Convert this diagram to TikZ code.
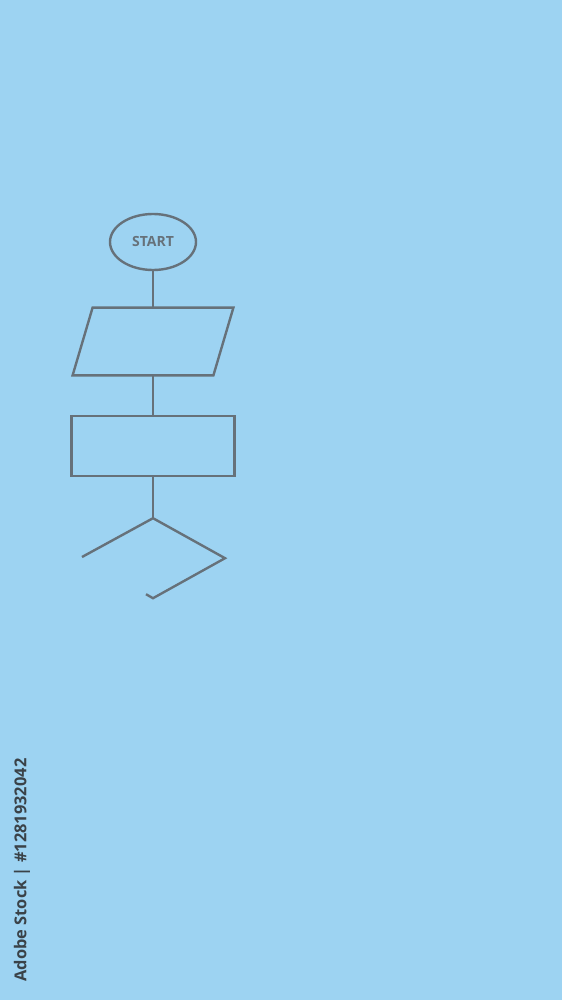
\documentclass[tikz,border=0pt]{standalone}
\usepackage{fontspec}
\setmainfont{Open Sans}
\usetikzlibrary{shapes.geometric}
\definecolor{skyblue}{HTML}{9DD3F2}
\definecolor{flowgray}{HTML}{66717A}
\definecolor{idgray}{HTML}{3A4248}

\begin{document}
\begin{tikzpicture}[x=0.5pt,y=-0.5pt]
	\tikzset{
		flow/.style={draw=flowgray, line width=1.2pt, inner sep=0pt},
		link/.style={draw=flowgray, line width=1.2pt}
	}
	% background
	\fill[skyblue] (0,0) rectangle (562,1000);
	\useasboundingbox (0,0) rectangle (562,1000);
	
	% start ellipse
	\node[flow, ellipse, minimum width=43pt, minimum height=28pt, text=flowgray, font=\fontsize{7}{8}\selectfont\bfseries] (start) at (153,242) {START};
	% input parallelogram (slanted outline round an empty box)
	\node[inner sep=0pt, minimum width=70pt, minimum height=33.5pt] (input) at (153,341.5) {};
	\draw[link, line join=miter] ([xshift=5pt]input.north west) -- ([xshift=5pt]input.north east)
		-- ([xshift=-5pt]input.south east) -- ([xshift=-5pt]input.south west) -- cycle;
	% process box
	\node[flow, rectangle, minimum width=81.5pt, minimum height=30pt] (process) at (153,446) {};
	
	% connectors
	\draw[link] (start.south) -- (input.north);
	\draw[link] (input.south) -- (process.north);
	\draw[link] (process.south) -- ++(0,41) coordinate (dtop);
	
	% unfinished decision
	\draw[link, line join=miter] (82,557) -- (dtop) -- ++(72,40) -- ++(-72,40) -- ++(-7,-4);
	
	% stock id
	\node[rotate=90, text=idgray, font=\fontsize{8.2}{10}\selectfont\bfseries, inner sep=0pt] (stockid) at (22,870) {Adobe Stock | \#1281932042};
\end{tikzpicture}
\end{document}
